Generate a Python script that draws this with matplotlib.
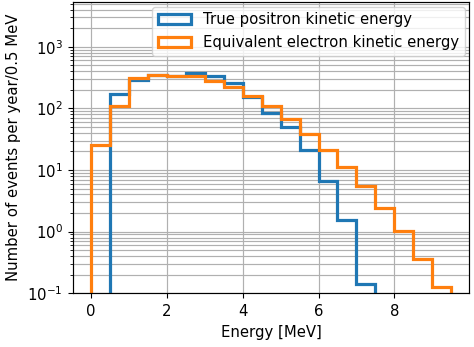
import matplotlib
matplotlib.use("Agg")
import matplotlib.pyplot as plt
import numpy as np

# bin edges in MeV (0.5 MeV bins)
edges = [0.0, 0.5, 1.0, 1.5, 2.0, 2.5, 3.0, 3.5, 4.0, 4.5, 5.0,
         5.5, 6.0, 6.5, 7.0, 7.5, 8.0, 8.5, 9.0, 9.5]

# events per year per bin
positron = [0, 172, 290, 342, 340, 368, 340, 254, 155, 85, 49,
            21, 6.5, 1.55, 0.14, 0, 0, 0, 0]
electron = [25.4, 110, 306, 347, 340, 335, 280, 219, 160, 109, 66,
            38, 21.3, 11, 5.5, 2.4, 1.03, 0.36, 0.125]

labels = ["True positron kinetic energy", "Equivalent electron kinetic energy"]

centers = [(a + b) / 2 for a, b in zip(edges[:-1], edges[1:])]

# the reference looks like a slightly scaled-up default figure
s = 1.07
plt.rcParams.update({
    "font.size": 10 * s,
    "xtick.major.size": 3.5 * s, "ytick.major.size": 3.5 * s,
    "ytick.minor.size": 2 * s,
    "xtick.major.pad": 3.5 * s, "ytick.major.pad": 3.5 * s,
    "axes.labelpad": 4 * s,
    "axes.linewidth": 0.8 * s,
    "grid.linewidth": 0.8 * s,
    "legend.handlelength": 2.2,
})

fig = plt.figure(figsize=(4.74, 3.47), dpi=100)
ax = fig.add_axes([0.154, 0.155, 0.836, 0.839])

# blue only has entries from 0.5 to 7.5
pos_edges = edges[1:16]
pos_centers = centers[1:15]
pos_vals = positron[1:15]
ax.hist(pos_centers, bins=pos_edges, weights=pos_vals, histtype="step",
        linewidth=2.3, color="#1f77b4", label=labels[0])
ax.hist(centers, bins=edges, weights=electron, histtype="step",
        linewidth=2.3, color="#ff7f0e", label=labels[1])

ax.set_yscale("log")
ax.set_ylim(0.1, 5300)
ax.set_xlim(-0.475, 9.975)
ax.set_xticks([0, 2, 4, 6, 8])
ax.grid(which="both")
ax.set_xlabel("Energy [MeV]")
ax.set_ylabel("Number of events per year/0.5 MeV")
ax.legend(loc="upper right", borderaxespad=0.3)

fig.savefig("out.png", dpi=100)
